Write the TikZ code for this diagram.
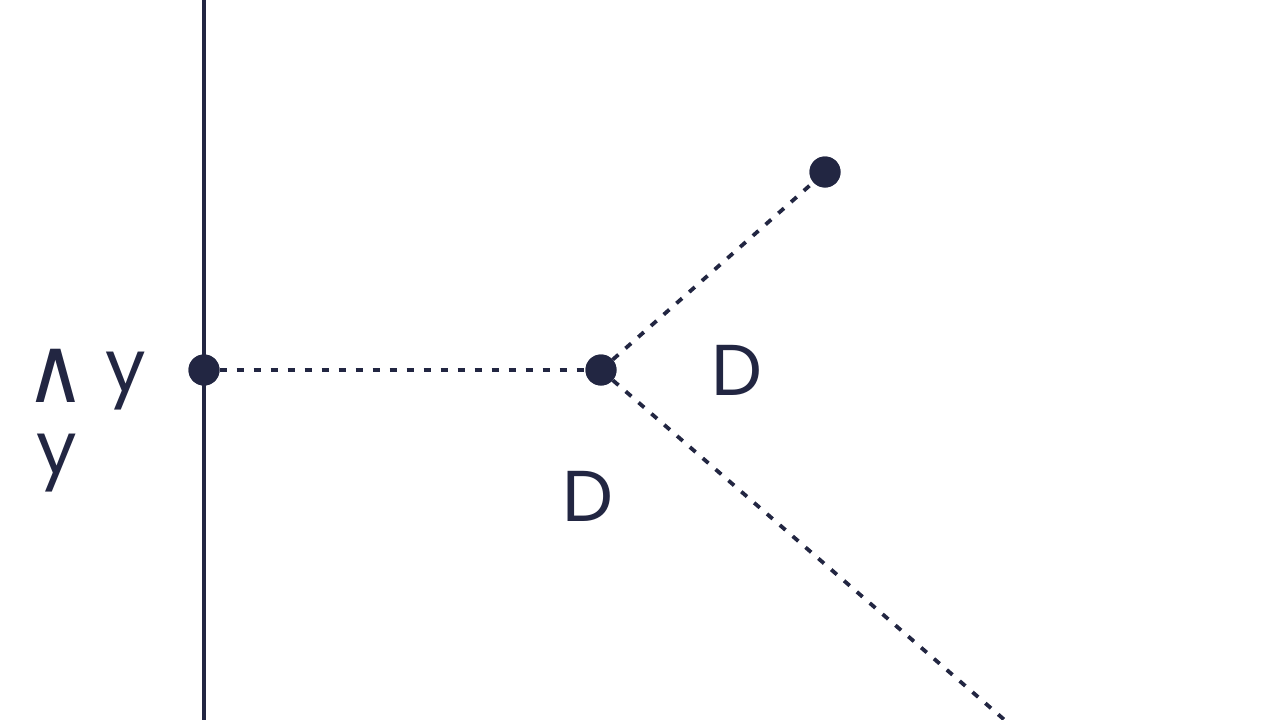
\documentclass[tikz,border=0pt]{standalone}
\usepackage{fontspec}
\setmainfont{Poppins}
\newfontfamily\symfont{DejaVu Sans}
\definecolor{ink}{RGB}{34,38,66}
\begin{document}
\begin{tikzpicture}[x=1pt,y=-1pt,
  dotnode/.style={circle,fill=ink,inner sep=0pt,minimum size=31pt},
  dotline/.style={draw=ink,line width=3.8pt,dash pattern=on 7.5pt off 9.5pt},
  lbl/.style={text=ink,font=\fontsize{72}{72}\selectfont,inner sep=0pt}]
\useasboundingbox (0,0) rectangle (1280,720);
\clip (0,0) rectangle (1280,720);
\coordinate (top) at (204,-5);
\coordinate (bot) at (204,725);
\draw[ink,line width=3.2pt] (top) -- (bot);
\node[dotnode] (a) at (204,370) {};
\node[dotnode] (b) at (601,370) {};
\node[dotnode] (c) at (825,172) {};
\coordinate (e) at (1030,742);
\draw[dotline] (a.east) -- (b.west);
\draw[dotline] (b) -- (c);
\draw[dotline] (b) -- (e);
\node[dotnode] at (b) {};
\node[dotnode] at (c) {};
\node[dotnode] at (a) {};
\node[lbl,font=\symfont\fontsize{92}{92}\selectfont,xscale=0.9] (and) at (56,376) {∧};
\node[lbl] (y1) at (126,381) {y};
\node[lbl] (y2) at (57,463) {y};
\node[lbl] (d1) at (737,370) {D};
\node[lbl] (d2) at (588,496) {D};
\end{tikzpicture}
\end{document}
